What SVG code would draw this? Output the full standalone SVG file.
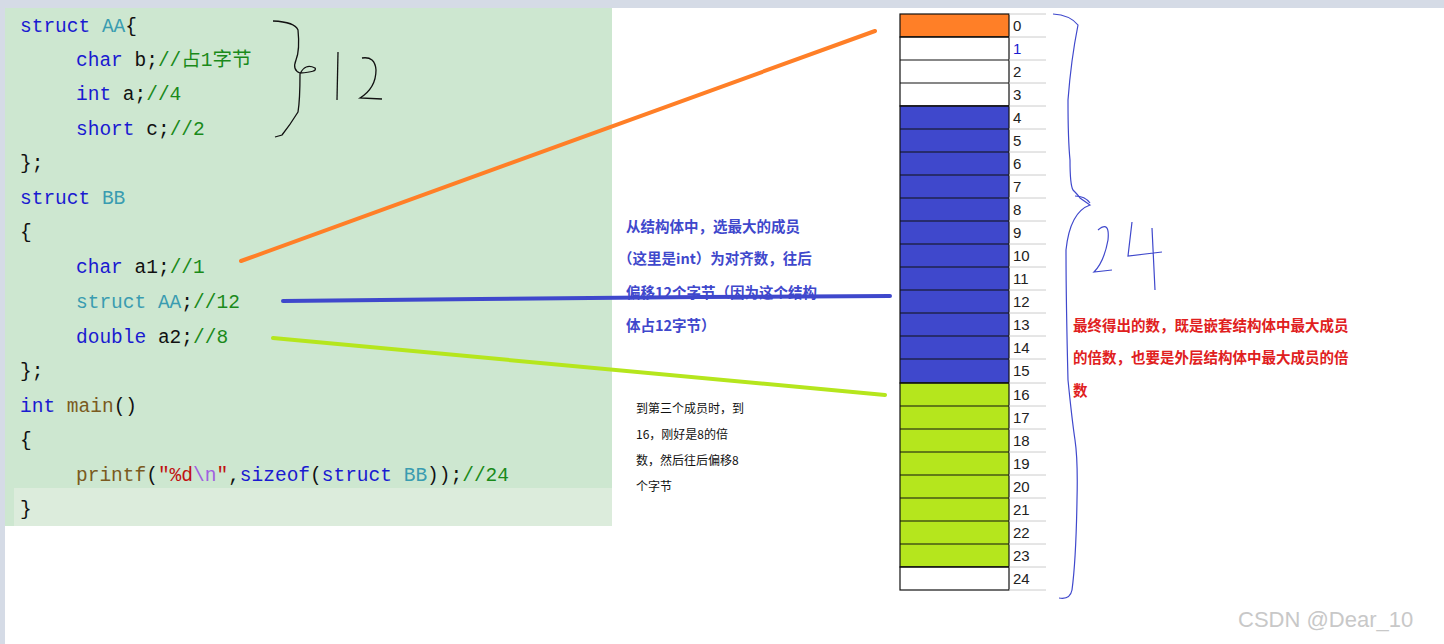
<svg xmlns="http://www.w3.org/2000/svg" width="1444" height="644" viewBox="0 0 1444 644">
<style>
.c{font-family:"Liberation Mono","Noto Sans CJK SC",monospace;font-size:19.5px}
.k{fill:#1a1ad0}.t{fill:#3a9cb0}.g{fill:#1a8a1a}.b{fill:#111}.m{fill:#7a5a20}.r{fill:#c01010}.p{fill:#a060e0}
.n{font-family:"Liberation Sans",sans-serif;font-size:15px;fill:#222}
.bl{font-family:"Noto Sans CJK SC",sans-serif;font-size:14.5px;font-weight:bold;fill:#3f48cc}
.rd{font-family:"Noto Sans CJK SC",sans-serif;font-size:14.5px;font-weight:bold;fill:#e02020}
.sm{font-family:"Noto Sans CJK SC",sans-serif;font-size:12px;fill:#111}
.hw{fill:none;stroke:#111;stroke-width:1.3}
.hb{fill:none;stroke:#3f48cc;stroke-width:1.2}
.cell{stroke:#111;stroke-width:1.2}
.grid{stroke:#ccc;stroke-width:1}
</style>
<rect width="1444" height="644" fill="#fff"/>
<rect x="0" y="0" width="1444" height="8" fill="#d5dbe6"/>
<rect x="0" y="8" width="5" height="636" fill="#d5dbe6"/>
<rect x="5" y="8" width="607" height="518" fill="#cde7d0"/>
<rect x="14" y="488" width="598" height="38" fill="#dcecdc"/>
<g id="code">
<text class="c" x="20" y="32"><tspan class="k">struct </tspan><tspan class="t">AA</tspan><tspan class="b">{</tspan></text>
<text class="c" x="76" y="66"><tspan class="k">char </tspan><tspan class="b">b;</tspan><tspan class="g">//占1字节</tspan></text>
<text class="c" x="76" y="100"><tspan class="k">int </tspan><tspan class="b">a;</tspan><tspan class="g">//4</tspan></text>
<text class="c" x="76" y="135"><tspan class="k">short </tspan><tspan class="b">c;</tspan><tspan class="g">//2</tspan></text>
<text class="c b" x="20" y="169">};</text>
<text class="c" x="20" y="204"><tspan class="k">struct </tspan><tspan class="t">BB</tspan></text>
<text class="c b" x="20" y="238">{</text>
<text class="c" x="76" y="273"><tspan class="k">char </tspan><tspan class="b">a1;</tspan><tspan class="g">//1</tspan></text>
<text class="c" x="76" y="308"><tspan class="t">struct AA</tspan><tspan class="b">;</tspan><tspan class="g">//12</tspan></text>
<text class="c" x="76" y="343"><tspan class="k">double </tspan><tspan class="b">a2;</tspan><tspan class="g">//8</tspan></text>
<text class="c b" x="20" y="377">};</text>
<text class="c" x="20" y="412"><tspan class="k">int </tspan><tspan class="m">main</tspan><tspan class="b">()</tspan></text>
<text class="c b" x="20" y="446">{</text>
<text class="c" x="76" y="481"><tspan class="m">printf</tspan><tspan class="b">(</tspan><tspan class="r">"%d</tspan><tspan class="p">\n</tspan><tspan class="r">"</tspan><tspan class="b">,</tspan><tspan class="k">sizeof</tspan><tspan class="b">(</tspan><tspan class="k">struct </tspan><tspan class="t">BB</tspan><tspan class="b">));</tspan><tspan class="g">//24</tspan></text>
<text class="c b" x="20" y="515">}</text>
</g>
<g id="brace12">
<path class="hw" d="M273 21 Q295 22 298 30 Q300 50 296 60 Q292 70 300 73 Q318 72 315 68 Q305 63 300 74 Q300 100 298 112 Q290 125 282 135 L275 137"/>
<path class="hw" d="M338 52 L337 100"/>
<path class="hw" d="M362 58 Q375 56 376 70 Q376 88 360 98 L382 99"/>
</g>
<g id="memory">
<rect class="cell" x="900" y="14" width="109" height="23" fill="#ff7f27"/>
<rect class="cell" x="900" y="37" width="109" height="69" fill="#fff"/>
<rect class="cell" x="900" y="106" width="109" height="277" fill="#3f48cc"/>
<rect class="cell" x="900" y="383" width="109" height="184" fill="#b5e61d"/>
<rect class="cell" x="900" y="567" width="109" height="23" fill="#fff"/>
<g stroke="#111" stroke-width="1.2">
<path d="M900 37H1009M900 60H1009M900 83H1009M900 106H1009M900 129H1009M900 152H1009M900 175H1009M900 198H1009M900 221H1009M900 244H1009M900 267H1009M900 290H1009M900 313H1009M900 336H1009M900 359H1009M900 383H1009M900 406H1009M900 429H1009M900 452H1009M900 475H1009M900 498H1009M900 521H1009M900 544H1009M900 567H1009"/>
</g>
<path class="grid" d="M1009 14H1046M1009 37H1046M1009 60H1046M1009 83H1046M1009 106H1046M1009 129H1046M1009 152H1046M1009 175H1046M1009 198H1046M1009 221H1046M1009 244H1046M1009 267H1046M1009 290H1046M1009 313H1046M1009 336H1046M1009 359H1046M1009 383H1046M1009 406H1046M1009 429H1046M1009 452H1046M1009 475H1046M1009 498H1046M1009 521H1046M1009 544H1046M1009 567H1046M1009 590H1046"/>
<g class="n">
<text x="1013" y="31">0</text><text x="1013" y="54" fill="#1a1ad0">1</text><text x="1013" y="77">2</text><text x="1013" y="100">3</text>
<text x="1013" y="123">4</text><text x="1013" y="146">5</text><text x="1013" y="169">6</text><text x="1013" y="192">7</text>
<text x="1013" y="215">8</text><text x="1013" y="238">9</text><text x="1013" y="261">10</text><text x="1013" y="284">11</text>
<text x="1013" y="307">12</text><text x="1013" y="330">13</text><text x="1013" y="353">14</text><text x="1013" y="376">15</text>
<text x="1013" y="400">16</text><text x="1013" y="423">17</text><text x="1013" y="446">18</text><text x="1013" y="469">19</text>
<text x="1013" y="492">20</text><text x="1013" y="515">21</text><text x="1013" y="538">22</text><text x="1013" y="561">23</text>
<text x="1013" y="584">24</text>
</g>
</g>
<g id="brace24">
<path class="hb" d="M1053 14 Q1070 15 1078 25 Q1071 60 1068 100 Q1068 140 1070 160 Q1070 185 1073 190 Q1078 195 1080 198 L1090 205 Q1070 212 1066 250 Q1066 300 1068 380 Q1072 420 1075 440 Q1078 460 1077 500 Q1076 560 1072 590 Q1070 600 1059 598"/>
<path class="hb" d="M1075 196 Q1085 196 1090 203"/>
<path class="hb" d="M1098 230 Q1110 220 1108 240 Q1104 262 1094 272 L1112 270"/>
<path class="hb" d="M1132 222 L1128 256 L1162 252 M1152 228 L1155 290"/>
</g>
<g id="connectors" fill="none" stroke-linecap="round">
<path d="M241 261 L875 31" stroke="#ff7f27" stroke-width="4"/>
<path d="M283 301 L480 299 L700 297 L890 296" stroke="#3f48cc" stroke-width="4"/>
<path d="M273 338 L885 395" stroke="#b5e61d" stroke-width="4"/>
</g>
<g id="notes">
<text class="bl" x="626" y="232">从结构体中，选最大的成员</text>
<text class="bl" x="618" y="264">（这里是int）为对齐数，往后</text>
<text class="bl" x="626" y="298">偏移12个字节（因为这个结构</text>
<text class="bl" x="626" y="331">体占12字节）</text>
<text class="sm" x="636" y="413">到第三个成员时，到</text>
<text class="sm" x="636" y="439">16，刚好是8的倍</text>
<text class="sm" x="636" y="465">数，然后往后偏移8</text>
<text class="sm" x="636" y="491">个字节</text>
<text class="rd" x="1073" y="331">最终得出的数，既是嵌套结构体中最大成员</text>
<text class="rd" x="1073" y="363">的倍数，也要是外层结构体中最大成员的倍</text>
<text class="rd" x="1073" y="396">数</text>
</g>
<text x="1238" y="627" font-family="Liberation Sans,sans-serif" font-size="22" fill="#c8c8c8">CSDN @Dear_10</text>
</svg>
